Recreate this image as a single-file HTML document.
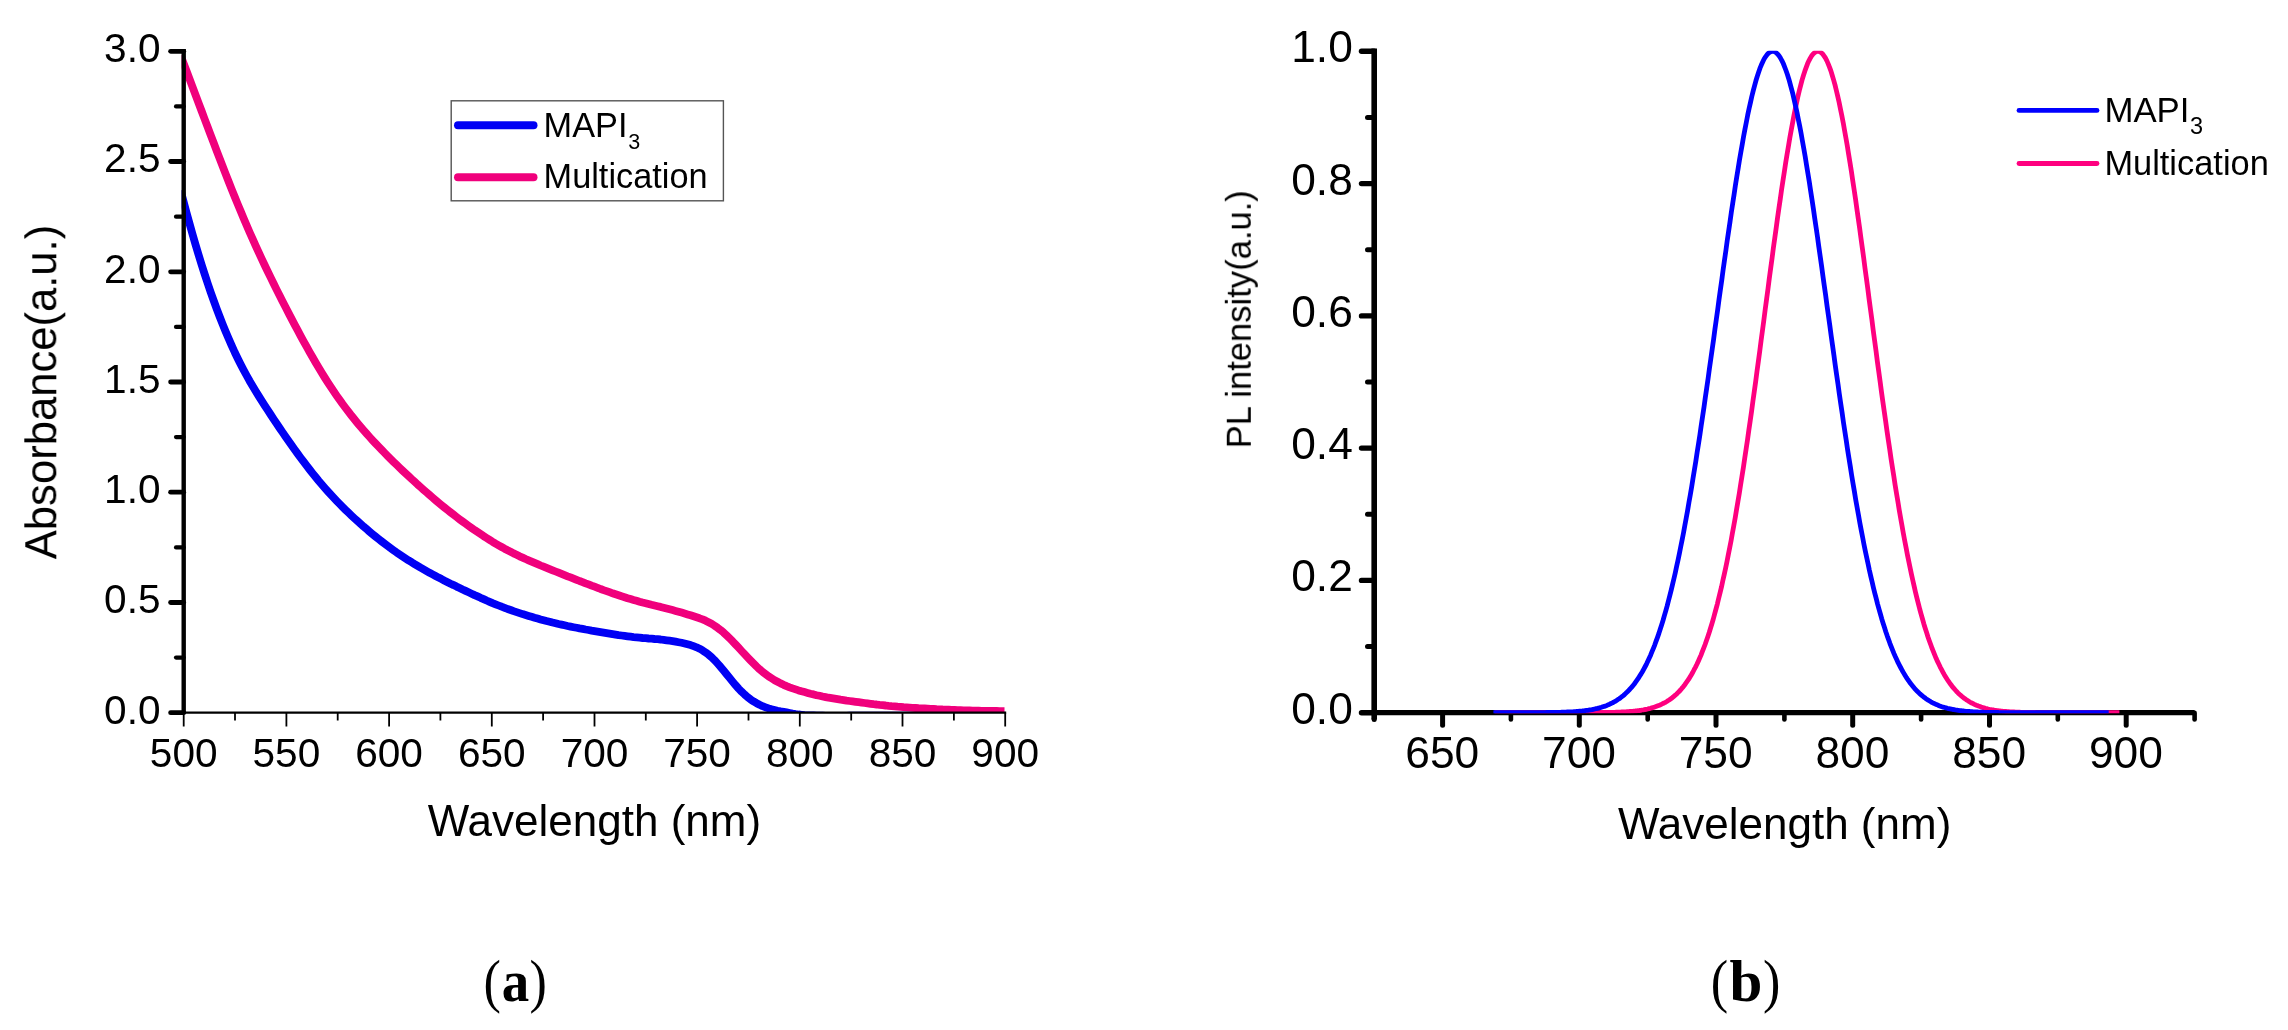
<!DOCTYPE html>
<html lang="en">
<head>
<meta charset="utf-8">
<title>Absorbance and PL spectra of MAPI3 and Multication films</title>
<style>
html,body{margin:0;padding:0;background:#fff;}
body{width:2288px;height:1030px;overflow:hidden;}
svg{display:block;}
svg text{font-family:"Liberation Sans",sans-serif;fill:#000;}
svg .cap text{font-family:"Liberation Serif",serif;}
</style>
</head>
<body>
<svg width="2288" height="1030" viewBox="0 0 2288 1030">
<defs>
<filter id="softA" x="0" y="0" width="2288" height="1030" filterUnits="userSpaceOnUse"><feGaussianBlur stdDeviation="0.75"/></filter>
<filter id="softB" x="0" y="0" width="2288" height="1030" filterUnits="userSpaceOnUse"><feGaussianBlur stdDeviation="0.5"/></filter>
</defs>
<rect width="2288" height="1030" fill="#fff"/>
<g id="panel-a" filter="url(#softA)">
<clipPath id="clipa"><rect x="181.6" y="40" width="830" height="672.9"/></clipPath>
<g clip-path="url(#clipa)">
<path d="M180.6,190.4 L183.6,201.8 L186.6,213.0 L189.6,223.9 L192.6,234.5 L195.6,244.8 L198.6,254.9 L201.6,264.6 L204.6,274.0 L207.6,283.1 L210.6,291.9 L213.6,300.4 L216.6,308.6 L219.6,316.5 L222.6,324.2 L225.6,331.5 L228.6,338.6 L231.6,345.4 L234.6,352.0 L237.6,358.2 L240.6,364.2 L243.6,370.0 L246.6,375.5 L249.6,380.9 L252.6,386.0 L255.6,391.0 L258.6,395.9 L261.6,400.6 L264.6,405.3 L267.6,409.9 L270.6,414.5 L273.6,419.1 L276.6,423.5 L279.6,428.0 L282.6,432.4 L285.6,436.7 L288.6,441.0 L291.6,445.3 L294.6,449.5 L297.6,453.6 L300.6,457.7 L303.6,461.7 L306.6,465.6 L309.6,469.5 L312.6,473.3 L315.6,477.0 L318.6,480.7 L321.6,484.2 L324.6,487.7 L327.6,491.1 L330.6,494.4 L333.6,497.6 L336.6,500.8 L339.6,503.9 L342.6,506.9 L345.6,509.9 L348.6,512.8 L351.6,515.7 L354.6,518.5 L357.6,521.2 L360.6,523.9 L363.6,526.6 L366.6,529.1 L369.6,531.7 L372.6,534.2 L375.6,536.6 L378.6,539.0 L381.6,541.4 L384.6,543.7 L387.6,545.9 L390.6,548.1 L393.6,550.3 L396.6,552.4 L399.6,554.4 L402.6,556.4 L405.6,558.4 L408.6,560.4 L411.6,562.2 L414.6,564.1 L417.6,565.9 L420.6,567.7 L423.6,569.4 L426.6,571.1 L429.6,572.8 L432.6,574.4 L435.6,576.0 L438.6,577.6 L441.6,579.1 L444.6,580.7 L447.6,582.2 L450.6,583.7 L453.6,585.1 L456.6,586.6 L459.6,588.0 L462.6,589.5 L465.6,590.9 L468.6,592.3 L471.6,593.7 L474.6,595.1 L477.6,596.4 L480.6,597.8 L483.6,599.1 L486.6,600.5 L489.6,601.8 L492.6,603.1 L495.6,604.3 L498.6,605.5 L501.6,606.7 L504.6,607.8 L507.6,609.0 L510.6,610.0 L513.6,611.1 L516.6,612.1 L519.6,613.1 L522.6,614.1 L525.6,615.0 L528.6,615.9 L531.6,616.8 L534.6,617.7 L537.6,618.5 L540.6,619.4 L543.6,620.2 L546.6,621.0 L549.6,621.7 L552.6,622.5 L555.6,623.2 L558.6,624.0 L561.6,624.6 L564.6,625.3 L567.6,626.0 L570.6,626.6 L573.6,627.2 L576.6,627.8 L579.6,628.4 L582.6,628.9 L585.6,629.5 L588.6,630.0 L591.6,630.6 L594.6,631.1 L597.6,631.6 L600.6,632.1 L603.6,632.6 L606.6,633.1 L609.6,633.6 L612.6,634.1 L615.6,634.6 L618.6,635.1 L621.6,635.5 L624.6,635.9 L627.6,636.3 L630.6,636.7 L633.6,637.1 L636.6,637.4 L639.6,637.7 L642.6,638.0 L645.6,638.2 L648.6,638.5 L651.6,638.7 L654.6,639.0 L657.6,639.2 L660.6,639.5 L663.6,639.9 L666.6,640.3 L669.6,640.7 L672.6,641.1 L675.6,641.6 L678.6,642.2 L681.6,642.8 L684.6,643.5 L687.6,644.3 L690.6,645.1 L693.6,646.2 L696.6,647.3 L699.6,648.7 L702.6,650.4 L705.6,652.4 L708.6,654.7 L711.6,657.3 L714.6,660.2 L717.6,663.5 L720.6,666.9 L723.6,670.5 L726.6,674.2 L729.6,677.9 L732.6,681.6 L735.6,685.2 L738.6,688.6 L741.6,691.7 L744.6,694.5 L747.6,697.1 L750.6,699.4 L753.6,701.4 L756.6,703.2 L759.6,704.8 L762.6,706.2 L765.6,707.3 L768.6,708.4 L771.6,709.3 L774.6,710.0 L777.6,710.7 L780.6,711.3 L783.6,711.8 L786.6,712.4 L789.6,713.0 L792.6,713.6 L795.6,714.1 L798.6,714.5 L801.6,714.8 L804.6,715.1 L807.6,715.3 L810.6,715.4 L813.6,715.5 L816.6,715.6 L819.6,715.7 L822.6,715.7 L825.6,715.8 L828.6,715.9 L831.6,715.9 L834.6,715.9 L837.6,715.9 L840.6,715.9 L843.6,715.8 L846.6,715.8 L849.6,715.7 L852.6,715.7 L855.6,715.6 L858.6,715.6 L861.6,715.6 L864.6,715.6 L867.6,715.6 L870.6,715.6 L873.6,715.6 L876.6,715.6 L879.6,715.6 L882.6,715.6 L885.6,715.6 L888.6,715.6 L891.6,715.6 L894.6,715.6 L897.6,715.6 L900.6,715.6 L903.6,715.6 L906.6,715.6 L909.6,715.6 L912.6,715.6 L915.6,715.6 L918.6,715.6 L921.6,715.6 L924.6,715.6 L927.6,715.6 L930.6,715.6 L933.6,715.6 L936.6,715.6 L939.6,715.6 L942.6,715.6 L945.6,715.6 L948.6,715.6 L951.6,715.6 L954.6,715.6 L957.6,715.6 L960.6,715.6 L963.6,715.6 L966.6,715.6 L969.6,715.6 L972.6,715.6 L975.6,715.6 L978.6,715.6 L981.6,715.6 L984.6,715.6 L987.6,715.6 L990.6,715.6 L993.6,715.6 L996.6,715.6 L999.6,715.6 L1002.6,715.6 L1004.5,715.6" fill="none" stroke="#0404f4" stroke-width="7.8" stroke-linejoin="round"/>
<path d="M180.6,55.4 L183.6,63.3 L186.6,71.2 L189.6,79.2 L192.6,87.1 L195.6,95.1 L198.6,103.1 L201.6,111.0 L204.6,119.0 L207.6,126.9 L210.6,134.8 L213.6,142.7 L216.6,150.6 L219.6,158.4 L222.6,166.2 L225.6,173.9 L228.6,181.5 L231.6,189.1 L234.6,196.5 L237.6,203.9 L240.6,211.1 L243.6,218.2 L246.6,225.3 L249.6,232.2 L252.6,238.9 L255.6,245.6 L258.6,252.2 L261.6,258.6 L264.6,265.0 L267.6,271.2 L270.6,277.4 L273.6,283.5 L276.6,289.6 L279.6,295.5 L282.6,301.5 L285.6,307.3 L288.6,313.1 L291.6,318.9 L294.6,324.6 L297.6,330.2 L300.6,335.8 L303.6,341.3 L306.6,346.7 L309.6,352.1 L312.6,357.3 L315.6,362.5 L318.6,367.5 L321.6,372.5 L324.6,377.4 L327.6,382.1 L330.6,386.7 L333.6,391.2 L336.6,395.6 L339.6,399.8 L342.6,404.0 L345.6,408.0 L348.6,411.9 L351.6,415.8 L354.6,419.5 L357.6,423.2 L360.6,426.8 L363.6,430.3 L366.6,433.7 L369.6,437.0 L372.6,440.3 L375.6,443.5 L378.6,446.7 L381.6,449.8 L384.6,452.9 L387.6,455.9 L390.6,458.9 L393.6,461.9 L396.6,464.8 L399.6,467.7 L402.6,470.6 L405.6,473.4 L408.6,476.2 L411.6,479.0 L414.6,481.7 L417.6,484.5 L420.6,487.1 L423.6,489.8 L426.6,492.4 L429.6,495.0 L432.6,497.6 L435.6,500.2 L438.6,502.7 L441.6,505.2 L444.6,507.6 L447.6,510.0 L450.6,512.4 L453.6,514.7 L456.6,517.0 L459.6,519.3 L462.6,521.5 L465.6,523.7 L468.6,525.9 L471.6,528.0 L474.6,530.1 L477.6,532.1 L480.6,534.1 L483.6,536.1 L486.6,538.0 L489.6,539.9 L492.6,541.8 L495.6,543.6 L498.6,545.3 L501.6,547.0 L504.6,548.7 L507.6,550.3 L510.6,551.8 L513.6,553.4 L516.6,554.8 L519.6,556.3 L522.6,557.6 L525.6,559.0 L528.6,560.3 L531.6,561.6 L534.6,562.9 L537.6,564.2 L540.6,565.5 L543.6,566.7 L546.6,567.9 L549.6,569.1 L552.6,570.3 L555.6,571.5 L558.6,572.7 L561.6,573.9 L564.6,575.1 L567.6,576.3 L570.6,577.4 L573.6,578.6 L576.6,579.8 L579.6,581.0 L582.6,582.1 L585.6,583.3 L588.6,584.4 L591.6,585.6 L594.6,586.7 L597.6,587.8 L600.6,589.0 L603.6,590.1 L606.6,591.1 L609.6,592.2 L612.6,593.3 L615.6,594.3 L618.6,595.3 L621.6,596.3 L624.6,597.2 L627.6,598.2 L630.6,599.1 L633.6,600.0 L636.6,600.8 L639.6,601.7 L642.6,602.5 L645.6,603.2 L648.6,604.0 L651.6,604.8 L654.6,605.5 L657.6,606.2 L660.6,606.9 L663.6,607.7 L666.6,608.5 L669.6,609.3 L672.6,610.1 L675.6,610.9 L678.6,611.7 L681.6,612.6 L684.6,613.5 L687.6,614.4 L690.6,615.3 L693.6,616.3 L696.6,617.3 L699.6,618.3 L702.6,619.4 L705.6,620.7 L708.6,622.2 L711.6,623.8 L714.6,625.7 L717.6,627.8 L720.6,630.1 L723.6,632.6 L726.6,635.4 L729.6,638.3 L732.6,641.3 L735.6,644.5 L738.6,647.7 L741.6,651.0 L744.6,654.2 L747.6,657.4 L750.6,660.5 L753.6,663.5 L756.6,666.5 L759.6,669.3 L762.6,671.9 L765.6,674.2 L768.6,676.4 L771.6,678.3 L774.6,680.2 L777.6,681.8 L780.6,683.4 L783.6,684.8 L786.6,686.1 L789.6,687.3 L792.6,688.4 L795.6,689.4 L798.6,690.4 L801.6,691.3 L804.6,692.1 L807.6,692.9 L810.6,693.7 L813.6,694.4 L816.6,695.2 L819.6,695.8 L822.6,696.5 L825.6,697.1 L828.6,697.7 L831.6,698.2 L834.6,698.7 L837.6,699.2 L840.6,699.7 L843.6,700.1 L846.6,700.6 L849.6,701.0 L852.6,701.4 L855.6,701.8 L858.6,702.2 L861.6,702.6 L864.6,703.0 L867.6,703.4 L870.6,703.8 L873.6,704.2 L876.6,704.5 L879.6,704.9 L882.6,705.2 L885.6,705.5 L888.6,705.9 L891.6,706.2 L894.6,706.4 L897.6,706.7 L900.6,706.9 L903.6,707.2 L906.6,707.4 L909.6,707.6 L912.6,707.8 L915.6,708.0 L918.6,708.2 L921.6,708.3 L924.6,708.5 L927.6,708.7 L930.6,708.9 L933.6,709.0 L936.6,709.2 L939.6,709.3 L942.6,709.5 L945.6,709.6 L948.6,709.7 L951.6,709.9 L954.6,710.0 L957.6,710.1 L960.6,710.2 L963.6,710.3 L966.6,710.4 L969.6,710.5 L972.6,710.6 L975.6,710.7 L978.6,710.7 L981.6,710.8 L984.6,710.9 L987.6,710.9 L990.6,711.0 L993.6,711.0 L996.6,711.0 L999.6,711.1 L1002.6,711.1 L1004.5,711.1" fill="none" stroke="#f0047c" stroke-width="7.8" stroke-linejoin="round"/>
</g>
<line x1="183.7" y1="48.9" x2="183.7" y2="714.0" stroke="#000" stroke-width="4.4" stroke-linecap="butt"/>
<line x1="182.7" y1="712.7" x2="1006.2" y2="712.7" stroke="#000" stroke-width="2.2" stroke-linecap="butt"/>
<line x1="170.6" y1="712.7" x2="183.7" y2="712.7" stroke="#000" stroke-width="4.8" stroke-linecap="round"/>
<text x="160.5" y="723.5" font-size="40.6" text-anchor="end" >0.0</text>
<line x1="170.6" y1="602.5" x2="183.7" y2="602.5" stroke="#000" stroke-width="4.8" stroke-linecap="round"/>
<text x="160.5" y="613.3" font-size="40.6" text-anchor="end" >0.5</text>
<line x1="170.6" y1="492.2" x2="183.7" y2="492.2" stroke="#000" stroke-width="4.8" stroke-linecap="round"/>
<text x="160.5" y="503.0" font-size="40.6" text-anchor="end" >1.0</text>
<line x1="170.6" y1="382.0" x2="183.7" y2="382.0" stroke="#000" stroke-width="4.8" stroke-linecap="round"/>
<text x="160.5" y="392.8" font-size="40.6" text-anchor="end" >1.5</text>
<line x1="170.6" y1="271.8" x2="183.7" y2="271.8" stroke="#000" stroke-width="4.8" stroke-linecap="round"/>
<text x="160.5" y="282.6" font-size="40.6" text-anchor="end" >2.0</text>
<line x1="170.6" y1="161.5" x2="183.7" y2="161.5" stroke="#000" stroke-width="4.8" stroke-linecap="round"/>
<text x="160.5" y="172.3" font-size="40.6" text-anchor="end" >2.5</text>
<line x1="170.6" y1="51.3" x2="183.7" y2="51.3" stroke="#000" stroke-width="4.8" stroke-linecap="round"/>
<text x="160.5" y="62.1" font-size="40.6" text-anchor="end" >3.0</text>
<line x1="176.0" y1="657.6" x2="183.7" y2="657.6" stroke="#000" stroke-width="4.2" stroke-linecap="round"/>
<line x1="176.0" y1="547.4" x2="183.7" y2="547.4" stroke="#000" stroke-width="4.2" stroke-linecap="round"/>
<line x1="176.0" y1="437.1" x2="183.7" y2="437.1" stroke="#000" stroke-width="4.2" stroke-linecap="round"/>
<line x1="176.0" y1="326.9" x2="183.7" y2="326.9" stroke="#000" stroke-width="4.2" stroke-linecap="round"/>
<line x1="176.0" y1="216.7" x2="183.7" y2="216.7" stroke="#000" stroke-width="4.2" stroke-linecap="round"/>
<line x1="176.0" y1="106.4" x2="183.7" y2="106.4" stroke="#000" stroke-width="4.2" stroke-linecap="round"/>
<line x1="183.7" y1="712.7" x2="183.7" y2="726.5" stroke="#000" stroke-width="1.8" stroke-linecap="butt"/>
<text x="183.7" y="766.5" font-size="40.6" text-anchor="middle" >500</text>
<line x1="286.4" y1="712.7" x2="286.4" y2="726.5" stroke="#000" stroke-width="1.8" stroke-linecap="butt"/>
<text x="286.4" y="766.5" font-size="40.6" text-anchor="middle" >550</text>
<line x1="389.1" y1="712.7" x2="389.1" y2="726.5" stroke="#000" stroke-width="1.8" stroke-linecap="butt"/>
<text x="389.1" y="766.5" font-size="40.6" text-anchor="middle" >600</text>
<line x1="491.8" y1="712.7" x2="491.8" y2="726.5" stroke="#000" stroke-width="1.8" stroke-linecap="butt"/>
<text x="491.8" y="766.5" font-size="40.6" text-anchor="middle" >650</text>
<line x1="594.5" y1="712.7" x2="594.5" y2="726.5" stroke="#000" stroke-width="1.8" stroke-linecap="butt"/>
<text x="594.5" y="766.5" font-size="40.6" text-anchor="middle" >700</text>
<line x1="697.1" y1="712.7" x2="697.1" y2="726.5" stroke="#000" stroke-width="1.8" stroke-linecap="butt"/>
<text x="697.1" y="766.5" font-size="40.6" text-anchor="middle" >750</text>
<line x1="799.8" y1="712.7" x2="799.8" y2="726.5" stroke="#000" stroke-width="1.8" stroke-linecap="butt"/>
<text x="799.8" y="766.5" font-size="40.6" text-anchor="middle" >800</text>
<line x1="902.5" y1="712.7" x2="902.5" y2="726.5" stroke="#000" stroke-width="1.8" stroke-linecap="butt"/>
<text x="902.5" y="766.5" font-size="40.6" text-anchor="middle" >850</text>
<line x1="1005.2" y1="712.7" x2="1005.2" y2="726.5" stroke="#000" stroke-width="1.8" stroke-linecap="butt"/>
<text x="1005.2" y="766.5" font-size="40.6" text-anchor="middle" >900</text>
<line x1="235.0" y1="712.7" x2="235.0" y2="720.5" stroke="#000" stroke-width="1.8" stroke-linecap="butt"/>
<line x1="337.7" y1="712.7" x2="337.7" y2="720.5" stroke="#000" stroke-width="1.8" stroke-linecap="butt"/>
<line x1="440.4" y1="712.7" x2="440.4" y2="720.5" stroke="#000" stroke-width="1.8" stroke-linecap="butt"/>
<line x1="543.1" y1="712.7" x2="543.1" y2="720.5" stroke="#000" stroke-width="1.8" stroke-linecap="butt"/>
<line x1="645.8" y1="712.7" x2="645.8" y2="720.5" stroke="#000" stroke-width="1.8" stroke-linecap="butt"/>
<line x1="748.5" y1="712.7" x2="748.5" y2="720.5" stroke="#000" stroke-width="1.8" stroke-linecap="butt"/>
<line x1="851.2" y1="712.7" x2="851.2" y2="720.5" stroke="#000" stroke-width="1.8" stroke-linecap="butt"/>
<line x1="953.9" y1="712.7" x2="953.9" y2="720.5" stroke="#000" stroke-width="1.8" stroke-linecap="butt"/>
<text x="594.4" y="835.6" font-size="44" text-anchor="middle" >Wavelength (nm)</text>
<text transform="translate(56.3,392) rotate(-90)" font-size="43.6" text-anchor="middle">Absorbance(a.u.)</text>
<rect x="451.2" y="100.8" width="272.2" height="100" fill="#fff" stroke="#555" stroke-width="1.4"/>
<line x1="458.0" y1="125.3" x2="533.5" y2="125.3" stroke="#0404f4" stroke-width="8" stroke-linecap="round"/>
<line x1="458.0" y1="177.2" x2="533.5" y2="177.2" stroke="#f0047c" stroke-width="8" stroke-linecap="round"/>
<text x="543.6" y="137" font-size="34.3" text-anchor="start">MAPI<tspan font-size="21.5" dx="0.7" dy="12">3</tspan></text>
<text x="543.6" y="188.4" font-size="34.3" text-anchor="start" >Multication</text>
</g>
<g id="panel-b" filter="url(#softB)">
<clipPath id="clipb"><rect x="1370" y="50.8" width="840" height="662.5"/></clipPath>
<line x1="1374.2" y1="48.6" x2="1374.2" y2="719.5" stroke="#000" stroke-width="5.6" stroke-linecap="butt"/>
<line x1="1374.2" y1="719.0" x2="1374.2" y2="719.6" stroke="#000" stroke-width="5.0" stroke-linecap="round"/>
<line x1="1372.2" y1="712.7" x2="2194.6" y2="712.7" stroke="#000" stroke-width="5.3" stroke-linecap="butt"/>
<line x1="1361.5" y1="712.7" x2="1374.2" y2="712.7" stroke="#000" stroke-width="5.4" stroke-linecap="round"/>
<text x="1352.8" y="723.7" font-size="44.3" text-anchor="end" >0.0</text>
<line x1="1361.5" y1="580.4" x2="1374.2" y2="580.4" stroke="#000" stroke-width="5.4" stroke-linecap="round"/>
<text x="1352.8" y="591.4" font-size="44.3" text-anchor="end" >0.2</text>
<line x1="1361.5" y1="448.1" x2="1374.2" y2="448.1" stroke="#000" stroke-width="5.4" stroke-linecap="round"/>
<text x="1352.8" y="459.1" font-size="44.3" text-anchor="end" >0.4</text>
<line x1="1361.5" y1="315.9" x2="1374.2" y2="315.9" stroke="#000" stroke-width="5.4" stroke-linecap="round"/>
<text x="1352.8" y="326.9" font-size="44.3" text-anchor="end" >0.6</text>
<line x1="1361.5" y1="183.6" x2="1374.2" y2="183.6" stroke="#000" stroke-width="5.4" stroke-linecap="round"/>
<text x="1352.8" y="194.6" font-size="44.3" text-anchor="end" >0.8</text>
<line x1="1361.5" y1="51.3" x2="1374.2" y2="51.3" stroke="#000" stroke-width="5.4" stroke-linecap="round"/>
<text x="1352.8" y="62.3" font-size="44.3" text-anchor="end" >1.0</text>
<line x1="1367.5" y1="646.6" x2="1374.2" y2="646.6" stroke="#000" stroke-width="5.0" stroke-linecap="round"/>
<line x1="1367.5" y1="514.3" x2="1374.2" y2="514.3" stroke="#000" stroke-width="5.0" stroke-linecap="round"/>
<line x1="1367.5" y1="382.0" x2="1374.2" y2="382.0" stroke="#000" stroke-width="5.0" stroke-linecap="round"/>
<line x1="1367.5" y1="249.7" x2="1374.2" y2="249.7" stroke="#000" stroke-width="5.0" stroke-linecap="round"/>
<line x1="1367.5" y1="117.4" x2="1374.2" y2="117.4" stroke="#000" stroke-width="5.0" stroke-linecap="round"/>
<line x1="1442.6" y1="712.7" x2="1442.6" y2="725.3" stroke="#000" stroke-width="5.0" stroke-linecap="round"/>
<text x="1442.3" y="767.6" font-size="44.3" text-anchor="middle" >650</text>
<line x1="1579.3" y1="712.7" x2="1579.3" y2="725.3" stroke="#000" stroke-width="5.0" stroke-linecap="round"/>
<text x="1579.0" y="767.6" font-size="44.3" text-anchor="middle" >700</text>
<line x1="1716.0" y1="712.7" x2="1716.0" y2="725.3" stroke="#000" stroke-width="5.0" stroke-linecap="round"/>
<text x="1715.7" y="767.6" font-size="44.3" text-anchor="middle" >750</text>
<line x1="1852.7" y1="712.7" x2="1852.7" y2="725.3" stroke="#000" stroke-width="5.0" stroke-linecap="round"/>
<text x="1852.4" y="767.6" font-size="44.3" text-anchor="middle" >800</text>
<line x1="1989.5" y1="712.7" x2="1989.5" y2="725.3" stroke="#000" stroke-width="5.0" stroke-linecap="round"/>
<text x="1989.2" y="767.6" font-size="44.3" text-anchor="middle" >850</text>
<line x1="2126.2" y1="712.7" x2="2126.2" y2="725.3" stroke="#000" stroke-width="5.0" stroke-linecap="round"/>
<text x="2125.9" y="767.6" font-size="44.3" text-anchor="middle" >900</text>
<line x1="1510.9" y1="712.7" x2="1510.9" y2="719.5" stroke="#000" stroke-width="4.6" stroke-linecap="round"/>
<line x1="1647.7" y1="712.7" x2="1647.7" y2="719.5" stroke="#000" stroke-width="4.6" stroke-linecap="round"/>
<line x1="1784.4" y1="712.7" x2="1784.4" y2="719.5" stroke="#000" stroke-width="4.6" stroke-linecap="round"/>
<line x1="1921.1" y1="712.7" x2="1921.1" y2="719.5" stroke="#000" stroke-width="4.6" stroke-linecap="round"/>
<line x1="2057.8" y1="712.7" x2="2057.8" y2="719.5" stroke="#000" stroke-width="4.6" stroke-linecap="round"/>
<line x1="2194.6" y1="712.7" x2="2194.6" y2="719.5" stroke="#000" stroke-width="4.6" stroke-linecap="round"/>
<g clip-path="url(#clipb)">
<path d="M1494.5,712.7 L1495.9,712.7 L1497.3,712.7 L1498.6,712.7 L1500.0,712.7 L1501.4,712.7 L1502.7,712.7 L1504.1,712.7 L1505.5,712.7 L1506.8,712.7 L1508.2,712.7 L1509.6,712.7 L1510.9,712.7 L1512.3,712.7 L1513.7,712.7 L1515.0,712.7 L1516.4,712.7 L1517.8,712.7 L1519.1,712.7 L1520.5,712.7 L1521.9,712.7 L1523.2,712.7 L1524.6,712.7 L1526.0,712.7 L1527.3,712.7 L1528.7,712.7 L1530.1,712.7 L1531.4,712.7 L1532.8,712.7 L1534.2,712.7 L1535.5,712.7 L1536.9,712.7 L1538.3,712.7 L1539.6,712.7 L1541.0,712.7 L1542.4,712.7 L1543.7,712.7 L1545.1,712.7 L1546.5,712.7 L1547.8,712.7 L1549.2,712.7 L1550.6,712.7 L1551.9,712.7 L1553.3,712.7 L1554.7,712.7 L1556.0,712.7 L1557.4,712.7 L1558.8,712.7 L1560.1,712.7 L1561.5,712.7 L1562.9,712.7 L1564.2,712.7 L1565.6,712.7 L1567.0,712.7 L1568.3,712.7 L1569.7,712.7 L1571.1,712.7 L1572.5,712.7 L1573.8,712.7 L1575.2,712.7 L1576.6,712.7 L1577.9,712.7 L1579.3,712.7 L1580.7,712.7 L1582.0,712.7 L1583.4,712.7 L1584.8,712.7 L1586.1,712.7 L1587.5,712.6 L1588.9,712.6 L1590.2,712.6 L1591.6,712.6 L1593.0,712.6 L1594.3,712.6 L1595.7,712.6 L1597.1,712.6 L1598.4,712.6 L1599.8,712.6 L1601.2,712.5 L1602.5,712.5 L1603.9,712.5 L1605.3,712.5 L1606.6,712.5 L1608.0,712.4 L1609.4,712.4 L1610.7,712.4 L1612.1,712.4 L1613.5,712.3 L1614.8,712.3 L1616.2,712.2 L1617.6,712.2 L1618.9,712.1 L1620.3,712.1 L1621.7,712.0 L1623.0,711.9 L1624.4,711.9 L1625.8,711.8 L1627.1,711.7 L1628.5,711.6 L1629.9,711.5 L1631.2,711.4 L1632.6,711.3 L1634.0,711.1 L1635.3,711.0 L1636.7,710.8 L1638.1,710.6 L1639.4,710.5 L1640.8,710.3 L1642.2,710.0 L1643.5,709.8 L1644.9,709.5 L1646.3,709.3 L1647.7,709.0 L1649.0,708.6 L1650.4,708.3 L1651.8,707.9 L1653.1,707.5 L1654.5,707.1 L1655.9,706.6 L1657.2,706.1 L1658.6,705.6 L1660.0,705.0 L1661.3,704.4 L1662.7,703.7 L1664.1,703.0 L1665.4,702.3 L1666.8,701.5 L1668.2,700.6 L1669.5,699.7 L1670.9,698.7 L1672.3,697.7 L1673.6,696.6 L1675.0,695.4 L1676.4,694.2 L1677.7,692.9 L1679.1,691.5 L1680.5,690.0 L1681.8,688.4 L1683.2,686.8 L1684.6,685.0 L1685.9,683.2 L1687.3,681.2 L1688.7,679.2 L1690.0,677.0 L1691.4,674.7 L1692.8,672.3 L1694.1,669.7 L1695.5,667.1 L1696.9,664.3 L1698.2,661.4 L1699.6,658.3 L1701.0,655.1 L1702.3,651.7 L1703.7,648.2 L1705.1,644.5 L1706.4,640.7 L1707.8,636.7 L1709.2,632.5 L1710.5,628.2 L1711.9,623.7 L1713.3,619.0 L1714.6,614.1 L1716.0,609.0 L1717.4,603.8 L1718.7,598.3 L1720.1,592.7 L1721.5,586.9 L1722.8,580.8 L1724.2,574.6 L1725.6,568.2 L1727.0,561.6 L1728.3,554.8 L1729.7,547.8 L1731.1,540.6 L1732.4,533.2 L1733.8,525.6 L1735.2,517.8 L1736.5,509.9 L1737.9,501.7 L1739.3,493.4 L1740.6,484.9 L1742.0,476.2 L1743.4,467.3 L1744.7,458.3 L1746.1,449.2 L1747.5,439.9 L1748.8,430.4 L1750.2,420.8 L1751.6,411.1 L1752.9,401.3 L1754.3,391.4 L1755.7,381.3 L1757.0,371.2 L1758.4,361.1 L1759.8,350.8 L1761.1,340.5 L1762.5,330.2 L1763.9,319.8 L1765.2,309.5 L1766.6,299.1 L1768.0,288.8 L1769.3,278.4 L1770.7,268.2 L1772.1,258.0 L1773.4,247.8 L1774.8,237.8 L1776.2,227.9 L1777.5,218.1 L1778.9,208.4 L1780.3,198.9 L1781.6,189.5 L1783.0,180.4 L1784.4,171.4 L1785.7,162.7 L1787.1,154.1 L1788.5,145.9 L1789.8,137.9 L1791.2,130.2 L1792.6,122.7 L1793.9,115.6 L1795.3,108.8 L1796.7,102.3 L1798.0,96.1 L1799.4,90.3 L1800.8,84.9 L1802.1,79.9 L1803.5,75.2 L1804.9,70.9 L1806.3,67.1 L1807.6,63.6 L1809.0,60.6 L1810.4,57.9 L1811.7,55.8 L1813.1,54.0 L1814.5,52.7 L1815.8,51.8 L1817.2,51.4 L1818.6,51.4 L1819.9,51.8 L1821.3,52.7 L1822.7,54.0 L1824.0,55.8 L1825.4,57.9 L1826.8,60.6 L1828.1,63.6 L1829.5,67.1 L1830.9,70.9 L1832.2,75.2 L1833.6,79.9 L1835.0,84.9 L1836.3,90.3 L1837.7,96.1 L1839.1,102.3 L1840.4,108.8 L1841.8,115.6 L1843.2,122.7 L1844.5,130.2 L1845.9,137.9 L1847.3,145.9 L1848.6,154.1 L1850.0,162.7 L1851.4,171.4 L1852.7,180.4 L1854.1,189.5 L1855.5,198.9 L1856.8,208.4 L1858.2,218.1 L1859.6,227.9 L1860.9,237.8 L1862.3,247.8 L1863.7,258.0 L1865.0,268.2 L1866.4,278.4 L1867.8,288.8 L1869.1,299.1 L1870.5,309.5 L1871.9,319.8 L1873.2,330.2 L1874.6,340.5 L1876.0,350.8 L1877.3,361.1 L1878.7,371.2 L1880.1,381.3 L1881.4,391.4 L1882.8,401.3 L1884.2,411.1 L1885.6,420.8 L1886.9,430.4 L1888.3,439.9 L1889.7,449.2 L1891.0,458.3 L1892.4,467.3 L1893.8,476.2 L1895.1,484.9 L1896.5,493.4 L1897.9,501.7 L1899.2,509.9 L1900.6,517.8 L1902.0,525.6 L1903.3,533.2 L1904.7,540.6 L1906.1,547.8 L1907.4,554.8 L1908.8,561.6 L1910.2,568.2 L1911.5,574.6 L1912.9,580.8 L1914.3,586.9 L1915.6,592.7 L1917.0,598.3 L1918.4,603.8 L1919.7,609.0 L1921.1,614.1 L1922.5,619.0 L1923.8,623.7 L1925.2,628.2 L1926.6,632.5 L1927.9,636.7 L1929.3,640.7 L1930.7,644.5 L1932.0,648.2 L1933.4,651.7 L1934.8,655.1 L1936.1,658.3 L1937.5,661.4 L1938.9,664.3 L1940.2,667.1 L1941.6,669.7 L1943.0,672.3 L1944.3,674.7 L1945.7,677.0 L1947.1,679.2 L1948.4,681.2 L1949.8,683.2 L1951.2,685.0 L1952.5,686.8 L1953.9,688.4 L1955.3,690.0 L1956.6,691.5 L1958.0,692.9 L1959.4,694.2 L1960.8,695.4 L1962.1,696.6 L1963.5,697.7 L1964.9,698.7 L1966.2,699.7 L1967.6,700.6 L1969.0,701.5 L1970.3,702.3 L1971.7,703.0 L1973.1,703.7 L1974.4,704.4 L1975.8,705.0 L1977.2,705.6 L1978.5,706.1 L1979.9,706.6 L1981.3,707.1 L1982.6,707.5 L1984.0,707.9 L1985.4,708.3 L1986.7,708.6 L1988.1,709.0 L1989.5,709.3 L1990.8,709.5 L1992.2,709.8 L1993.6,710.0 L1994.9,710.3 L1996.3,710.5 L1997.7,710.6 L1999.0,710.8 L2000.4,711.0 L2001.8,711.1 L2003.1,711.3 L2004.5,711.4 L2005.9,711.5 L2007.2,711.6 L2008.6,711.7 L2010.0,711.8 L2011.3,711.9 L2012.7,711.9 L2014.1,712.0 L2015.4,712.1 L2016.8,712.1 L2018.2,712.2 L2019.5,712.2 L2020.9,712.3 L2022.3,712.3 L2023.6,712.4 L2025.0,712.4 L2026.4,712.4 L2027.7,712.4 L2029.1,712.5 L2030.5,712.5 L2031.8,712.5 L2033.2,712.5 L2034.6,712.5 L2035.9,712.6 L2037.3,712.6 L2038.7,712.6 L2040.1,712.6 L2041.4,712.6 L2042.8,712.6 L2044.2,712.6 L2045.5,712.6 L2046.9,712.6 L2048.3,712.6 L2049.6,712.7 L2051.0,712.7 L2052.4,712.7 L2053.7,712.7 L2055.1,712.7 L2056.5,712.7 L2057.8,712.7 L2059.2,712.7 L2060.6,712.7 L2061.9,712.7 L2063.3,712.7 L2064.7,712.7 L2066.0,712.7 L2067.4,712.7 L2068.8,712.7 L2070.1,712.7 L2071.5,712.7 L2072.9,712.7 L2074.2,712.7 L2075.6,712.7 L2077.0,712.7 L2078.3,712.7 L2079.7,712.7 L2081.1,712.7 L2082.4,712.7 L2083.8,712.7 L2085.2,712.7 L2086.5,712.7 L2087.9,712.7 L2089.3,712.7 L2090.6,712.7 L2092.0,712.7 L2093.4,712.7 L2094.7,712.7 L2096.1,712.7 L2097.5,712.7 L2098.8,712.7 L2100.2,712.7 L2101.6,712.7 L2102.9,712.7 L2104.3,712.7 L2105.7,712.7 L2107.0,712.7 L2108.4,712.7 L2109.8,712.7 L2111.1,712.7 L2112.5,712.7 L2113.9,712.7 L2115.2,712.7 L2116.6,712.7 L2118.0,712.7 L2119.4,712.7" fill="none" stroke="#ff007f" stroke-width="4.8" stroke-linejoin="round"/>
<path d="M1493.4,712.7 L1494.8,712.7 L1496.2,712.7 L1497.5,712.7 L1498.9,712.7 L1500.3,712.7 L1501.6,712.7 L1503.0,712.7 L1504.4,712.7 L1505.7,712.7 L1507.1,712.7 L1508.5,712.7 L1509.8,712.7 L1511.2,712.7 L1512.6,712.7 L1513.9,712.7 L1515.3,712.7 L1516.7,712.7 L1518.0,712.7 L1519.4,712.7 L1520.8,712.7 L1522.1,712.7 L1523.5,712.7 L1524.9,712.7 L1526.2,712.7 L1527.6,712.7 L1529.0,712.7 L1530.3,712.7 L1531.7,712.7 L1533.1,712.6 L1534.4,712.6 L1535.8,712.6 L1537.2,712.6 L1538.5,712.6 L1539.9,712.6 L1541.3,712.6 L1542.6,712.6 L1544.0,712.6 L1545.4,712.6 L1546.7,712.5 L1548.1,712.5 L1549.5,712.5 L1550.8,712.5 L1552.2,712.5 L1553.6,712.4 L1555.0,712.4 L1556.3,712.4 L1557.7,712.4 L1559.1,712.3 L1560.4,712.3 L1561.8,712.2 L1563.2,712.2 L1564.5,712.2 L1565.9,712.1 L1567.3,712.0 L1568.6,712.0 L1570.0,711.9 L1571.4,711.8 L1572.7,711.8 L1574.1,711.7 L1575.5,711.6 L1576.8,711.5 L1578.2,711.4 L1579.6,711.2 L1580.9,711.1 L1582.3,711.0 L1583.7,710.8 L1585.0,710.6 L1586.4,710.4 L1587.8,710.3 L1589.1,710.0 L1590.5,709.8 L1591.9,709.6 L1593.2,709.3 L1594.6,709.0 L1596.0,708.7 L1597.3,708.4 L1598.7,708.0 L1600.1,707.7 L1601.4,707.3 L1602.8,706.8 L1604.2,706.4 L1605.5,705.9 L1606.9,705.4 L1608.3,704.8 L1609.6,704.2 L1611.0,703.5 L1612.4,702.9 L1613.7,702.1 L1615.1,701.4 L1616.5,700.5 L1617.8,699.6 L1619.2,698.7 L1620.6,697.7 L1621.9,696.7 L1623.3,695.6 L1624.7,694.4 L1626.0,693.1 L1627.4,691.8 L1628.8,690.4 L1630.1,688.9 L1631.5,687.4 L1632.9,685.7 L1634.3,684.0 L1635.6,682.2 L1637.0,680.2 L1638.4,678.2 L1639.7,676.1 L1641.1,673.9 L1642.5,671.5 L1643.8,669.1 L1645.2,666.5 L1646.6,663.8 L1647.9,661.0 L1649.3,658.0 L1650.7,654.9 L1652.0,651.7 L1653.4,648.3 L1654.8,644.8 L1656.1,641.1 L1657.5,637.3 L1658.9,633.4 L1660.2,629.2 L1661.6,624.9 L1663.0,620.5 L1664.3,615.9 L1665.7,611.1 L1667.1,606.2 L1668.4,601.0 L1669.8,595.7 L1671.2,590.2 L1672.5,584.6 L1673.9,578.8 L1675.3,572.7 L1676.6,566.5 L1678.0,560.2 L1679.4,553.6 L1680.7,546.9 L1682.1,540.0 L1683.5,532.9 L1684.8,525.6 L1686.2,518.1 L1687.6,510.5 L1688.9,502.7 L1690.3,494.8 L1691.7,486.7 L1693.0,478.4 L1694.4,469.9 L1695.8,461.4 L1697.1,452.6 L1698.5,443.8 L1699.9,434.8 L1701.2,425.7 L1702.6,416.4 L1704.0,407.1 L1705.3,397.6 L1706.7,388.1 L1708.1,378.5 L1709.4,368.8 L1710.8,359.0 L1712.2,349.2 L1713.6,339.3 L1714.9,329.4 L1716.3,319.5 L1717.7,309.6 L1719.0,299.6 L1720.4,289.7 L1721.8,279.8 L1723.1,270.0 L1724.5,260.2 L1725.9,250.5 L1727.2,240.8 L1728.6,231.3 L1730.0,221.8 L1731.3,212.5 L1732.7,203.3 L1734.1,194.3 L1735.4,185.4 L1736.8,176.7 L1738.2,168.2 L1739.5,159.9 L1740.9,151.8 L1742.3,144.0 L1743.6,136.4 L1745.0,129.0 L1746.4,121.9 L1747.7,115.1 L1749.1,108.6 L1750.5,102.4 L1751.8,96.5 L1753.2,90.9 L1754.6,85.7 L1755.9,80.8 L1757.3,76.2 L1758.7,72.0 L1760.0,68.2 L1761.4,64.8 L1762.8,61.7 L1764.1,59.0 L1765.5,56.8 L1766.9,54.9 L1768.2,53.4 L1769.6,52.3 L1771.0,51.6 L1772.3,51.3 L1773.7,51.4 L1775.1,52.0 L1776.4,52.9 L1777.8,54.2 L1779.2,56.0 L1780.5,58.1 L1781.9,60.6 L1783.3,63.5 L1784.6,66.8 L1786.0,70.5 L1787.4,74.5 L1788.8,78.9 L1790.1,83.7 L1791.5,88.8 L1792.9,94.2 L1794.2,100.0 L1795.6,106.1 L1797.0,112.5 L1798.3,119.2 L1799.7,126.1 L1801.1,133.4 L1802.4,140.9 L1803.8,148.7 L1805.2,156.7 L1806.5,164.9 L1807.9,173.3 L1809.3,181.9 L1810.6,190.7 L1812.0,199.7 L1813.4,208.8 L1814.7,218.1 L1816.1,227.5 L1817.5,237.0 L1818.8,246.6 L1820.2,256.3 L1821.6,266.1 L1822.9,275.9 L1824.3,285.8 L1825.7,295.7 L1827.0,305.6 L1828.4,315.5 L1829.8,325.4 L1831.1,335.3 L1832.5,345.2 L1833.9,355.1 L1835.2,364.9 L1836.6,374.6 L1838.0,384.2 L1839.3,393.8 L1840.7,403.3 L1842.1,412.7 L1843.4,422.0 L1844.8,431.1 L1846.2,440.2 L1847.5,449.1 L1848.9,457.9 L1850.3,466.5 L1851.6,475.0 L1853.0,483.4 L1854.4,491.5 L1855.7,499.6 L1857.1,507.4 L1858.5,515.1 L1859.8,522.6 L1861.2,530.0 L1862.6,537.1 L1863.9,544.1 L1865.3,550.9 L1866.7,557.6 L1868.1,564.0 L1869.4,570.3 L1870.8,576.4 L1872.2,582.3 L1873.5,588.0 L1874.9,593.6 L1876.3,598.9 L1877.6,604.1 L1879.0,609.1 L1880.4,614.0 L1881.7,618.7 L1883.1,623.2 L1884.5,627.5 L1885.8,631.7 L1887.2,635.8 L1888.6,639.6 L1889.9,643.3 L1891.3,646.9 L1892.7,650.3 L1894.0,653.6 L1895.4,656.8 L1896.8,659.8 L1898.1,662.7 L1899.5,665.4 L1900.9,668.0 L1902.2,670.5 L1903.6,672.9 L1905.0,675.2 L1906.3,677.4 L1907.7,679.5 L1909.1,681.4 L1910.4,683.3 L1911.8,685.0 L1913.2,686.7 L1914.5,688.3 L1915.9,689.8 L1917.3,691.3 L1918.6,692.6 L1920.0,693.9 L1921.4,695.1 L1922.7,696.2 L1924.1,697.3 L1925.5,698.3 L1926.8,699.3 L1928.2,700.2 L1929.6,701.0 L1930.9,701.8 L1932.3,702.6 L1933.7,703.3 L1935.0,703.9 L1936.4,704.6 L1937.8,705.1 L1939.1,705.7 L1940.5,706.2 L1941.9,706.7 L1943.2,707.1 L1944.6,707.5 L1946.0,707.9 L1947.4,708.3 L1948.7,708.6 L1950.1,708.9 L1951.5,709.2 L1952.8,709.5 L1954.2,709.7 L1955.6,710.0 L1956.9,710.2 L1958.3,710.4 L1959.7,710.6 L1961.0,710.7 L1962.4,710.9 L1963.8,711.0 L1965.1,711.2 L1966.5,711.3 L1967.9,711.4 L1969.2,711.5 L1970.6,711.6 L1972.0,711.7 L1973.3,711.8 L1974.7,711.9 L1976.1,712.0 L1977.4,712.0 L1978.8,712.1 L1980.2,712.1 L1981.5,712.2 L1982.9,712.2 L1984.3,712.3 L1985.6,712.3 L1987.0,712.3 L1988.4,712.4 L1989.7,712.4 L1991.1,712.4 L1992.5,712.5 L1993.8,712.5 L1995.2,712.5 L1996.6,712.5 L1997.9,712.5 L1999.3,712.6 L2000.7,712.6 L2002.0,712.6 L2003.4,712.6 L2004.8,712.6 L2006.1,712.6 L2007.5,712.6 L2008.9,712.6 L2010.2,712.6 L2011.6,712.6 L2013.0,712.6 L2014.3,712.7 L2015.7,712.7 L2017.1,712.7 L2018.4,712.7 L2019.8,712.7 L2021.2,712.7 L2022.5,712.7 L2023.9,712.7 L2025.3,712.7 L2026.7,712.7 L2028.0,712.7 L2029.4,712.7 L2030.8,712.7 L2032.1,712.7 L2033.5,712.7 L2034.9,712.7 L2036.2,712.7 L2037.6,712.7 L2039.0,712.7 L2040.3,712.7 L2041.7,712.7 L2043.1,712.7 L2044.4,712.7 L2045.8,712.7 L2047.2,712.7 L2048.5,712.7 L2049.9,712.7 L2051.3,712.7 L2052.6,712.7 L2054.0,712.7 L2055.4,712.7 L2056.7,712.7 L2058.1,712.7 L2059.5,712.7 L2060.8,712.7 L2062.2,712.7 L2063.6,712.7 L2064.9,712.7 L2066.3,712.7 L2067.7,712.7 L2069.0,712.7 L2070.4,712.7 L2071.8,712.7 L2073.1,712.7 L2074.5,712.7 L2075.9,712.7 L2077.2,712.7 L2078.6,712.7 L2080.0,712.7 L2081.3,712.7 L2082.7,712.7 L2084.1,712.7 L2085.4,712.7 L2086.8,712.7 L2088.2,712.7 L2089.5,712.7 L2090.9,712.7 L2092.3,712.7 L2093.6,712.7 L2095.0,712.7 L2096.4,712.7 L2097.7,712.7 L2099.1,712.7 L2100.5,712.7 L2101.9,712.7 L2103.2,712.7 L2104.6,712.7 L2106.0,712.7 L2107.3,712.7 L2108.7,712.7" fill="none" stroke="#0000ff" stroke-width="4.8" stroke-linejoin="round"/>
</g>
<text x="1784.6" y="839.1" font-size="44" text-anchor="middle" >Wavelength (nm)</text>
<text transform="translate(1250.8,319.3) rotate(-90)" font-size="34.6" text-anchor="middle">PL intensity(a.u.)</text>
<line x1="2019.0" y1="110.4" x2="2097.0" y2="110.4" stroke="#0000ff" stroke-width="4.8" stroke-linecap="round"/>
<line x1="2019.0" y1="163.5" x2="2097.0" y2="163.5" stroke="#ff007f" stroke-width="4.8" stroke-linecap="round"/>
<text x="2104.4" y="122.3" font-size="34.8" text-anchor="start">MAPI<tspan font-size="23.5" dx="0.6" dy="11.2">3</tspan></text>
<text x="2104.4" y="175.4" font-size="34.4" text-anchor="start" >Multication</text>
</g>
<g class="cap" font-size="60" filter="url(#softB)">
<text transform="translate(492.3,1001.2) scale(0.87,1)" text-anchor="middle">(</text>
<text transform="translate(515.4,1001.2) scale(0.915,1)" text-anchor="middle" font-weight="bold">a</text>
<text transform="translate(538.3,1001.2) scale(0.87,1)" text-anchor="middle">)</text>
<text transform="translate(1719.4,1001.2) scale(0.87,1)" text-anchor="middle">(</text>
<text transform="translate(1746.0,1001.2) scale(0.985,1)" text-anchor="middle" font-weight="bold">b</text>
<text transform="translate(1771.8,1001.2) scale(0.87,1)" text-anchor="middle">)</text>
</g>
</svg>
</body>
</html>
